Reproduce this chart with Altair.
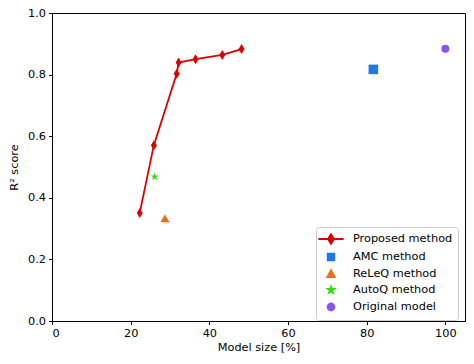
import altair as alt
import pandas as pd

# data
prop_x = [22.3, 25.9, 31.7, 32.2, 36.5, 43.3, 48.2]
prop_y = [0.351, 0.571, 0.803, 0.839, 0.850, 0.864, 0.883]
other_names = ["AMC method", "ReLeQ method", "AutoQ method", "Original model"]
other_x = [81.7, 28.7, 26.1, 100.0]
other_y = [0.817, 0.333, 0.468, 0.884]

series_order = ["Proposed method"] + other_names
colors = ["#dd0000", "#2277e6", "#f56a14", "#33dd11", "#8855ee"]

star = ("M0,-1L0.2245,-0.309L0.951,-0.309L0.363,0.118L0.588,0.809L0,0.382"
        "L-0.588,0.809L-0.363,0.118L-0.951,-0.309L-0.2245,-0.309Z")
thin_diamond = "M0,-1L0.6,0L0,1L-0.6,0Z"
shapes_plot = [thin_diamond, "square", "triangle-up", star, "circle"]
sizes_plot = [100, 64, 80, 60, 64]

# legend-only symbol paths (symbol box is +-1 = 6px)
star_leg = ("M0,-0.55L0.123,-0.17L0.523,-0.17L0.2,0.065L0.323,0.445L0,0.21"
            "L-0.323,0.445L-0.2,0.065L-0.523,-0.17L-0.123,-0.17Z")
shapes_legend = [
    "M-2.1,0H2.1M0,-0.8L0.5,0L0,0.8L-0.5,0Z",
    "M-0.55,-0.55H0.55V0.55H-0.55Z",
    "M0,-0.65L0.62,0.5L-0.62,0.5Z",
    star_leg,
    "M0.58,0A0.58,0.58 0 1,1 -0.58,0A0.58,0.58 0 1,1 0.58,0Z",
]

prop_df = pd.DataFrame({"x": prop_x, "y": prop_y, "series": "Proposed method"})
oth_df = pd.DataFrame({"x": other_x, "y": other_y, "series": other_names})
all_df = pd.concat([prop_df, oth_df], ignore_index=True)

font = "DejaVu Sans"
fs = 11.3
xs = alt.Scale(domain=[0, 105], nice=False, zero=False)
ys = alt.Scale(domain=[0, 1], nice=False)

X = alt.X("x:Q", scale=xs, title="Model size [%]",
          axis=alt.Axis(values=[0, 20, 40, 60, 80, 100], format="d"))
Y = alt.Y("y:Q", scale=ys, title="R² score",
          axis=alt.Axis(values=[0, 0.2, 0.4, 0.6, 0.8, 1.0], format=".1f"))

line = alt.Chart(prop_df).mark_line(color="#dd0000", strokeWidth=1.8).encode(x=X, y=Y)

pts = alt.Chart(all_df).mark_point(filled=True, opacity=1).encode(
    x=X, y=Y,
    color=alt.Color("series:N", scale=alt.Scale(domain=series_order, range=colors), legend=None),
    shape=alt.Shape("series:N", scale=alt.Scale(domain=series_order, range=shapes_plot), legend=None),
    size=alt.Size("series:N", scale=alt.Scale(domain=series_order, range=sizes_plot), legend=None),
)

leg = alt.Legend(
    title=None, orient="none", legendX=264, legendY=214,
    symbolSize=144, symbolStrokeWidth=1.8, symbolOpacity=1,
    labelFont=font, labelFontSize=fs, labelColor="black",
    strokeColor="#cccccc", fillColor="white", cornerRadius=3,
    padding=5, rowPadding=2, labelOffset=15, symbolOffset=3,
)
legend_layer = alt.Chart(all_df).mark_point(filled=True, opacity=0).encode(
    x=X, y=Y,
    color=alt.Color("series:N", scale=alt.Scale(domain=series_order, range=colors), legend=leg),
    stroke=alt.Stroke("series:N", scale=alt.Scale(domain=series_order, range=colors), legend=leg),
    shape=alt.Shape("series:N", scale=alt.Scale(domain=series_order, range=shapes_legend), legend=leg),
)

chart = alt.layer(line, pts, legend_layer).resolve_scale(
    color="independent", shape="independent", stroke="independent", size="independent"
).properties(
    width=413, height=308,
    autosize=alt.AutoSizeParams(type="none"),
    padding={"left": 44, "top": 5, "right": 1, "bottom": 35},
).configure_view(
    stroke="black", strokeWidth=1
).configure_axis(
    grid=False, domainColor="black", tickColor="black", tickSize=3.5,
    labelFont=font, labelFontSize=fs, labelColor="black",
    titleFont=font, titleFontSize=fs, titleFontWeight="normal", titleColor="black",
    labelPadding=3, domainWidth=1, tickWidth=1,
).configure_axisX(titlePadding=3).configure_axisY(titlePadding=8)

chart.save("out.html", embed_options={"renderer": "svg", "actions": False})
